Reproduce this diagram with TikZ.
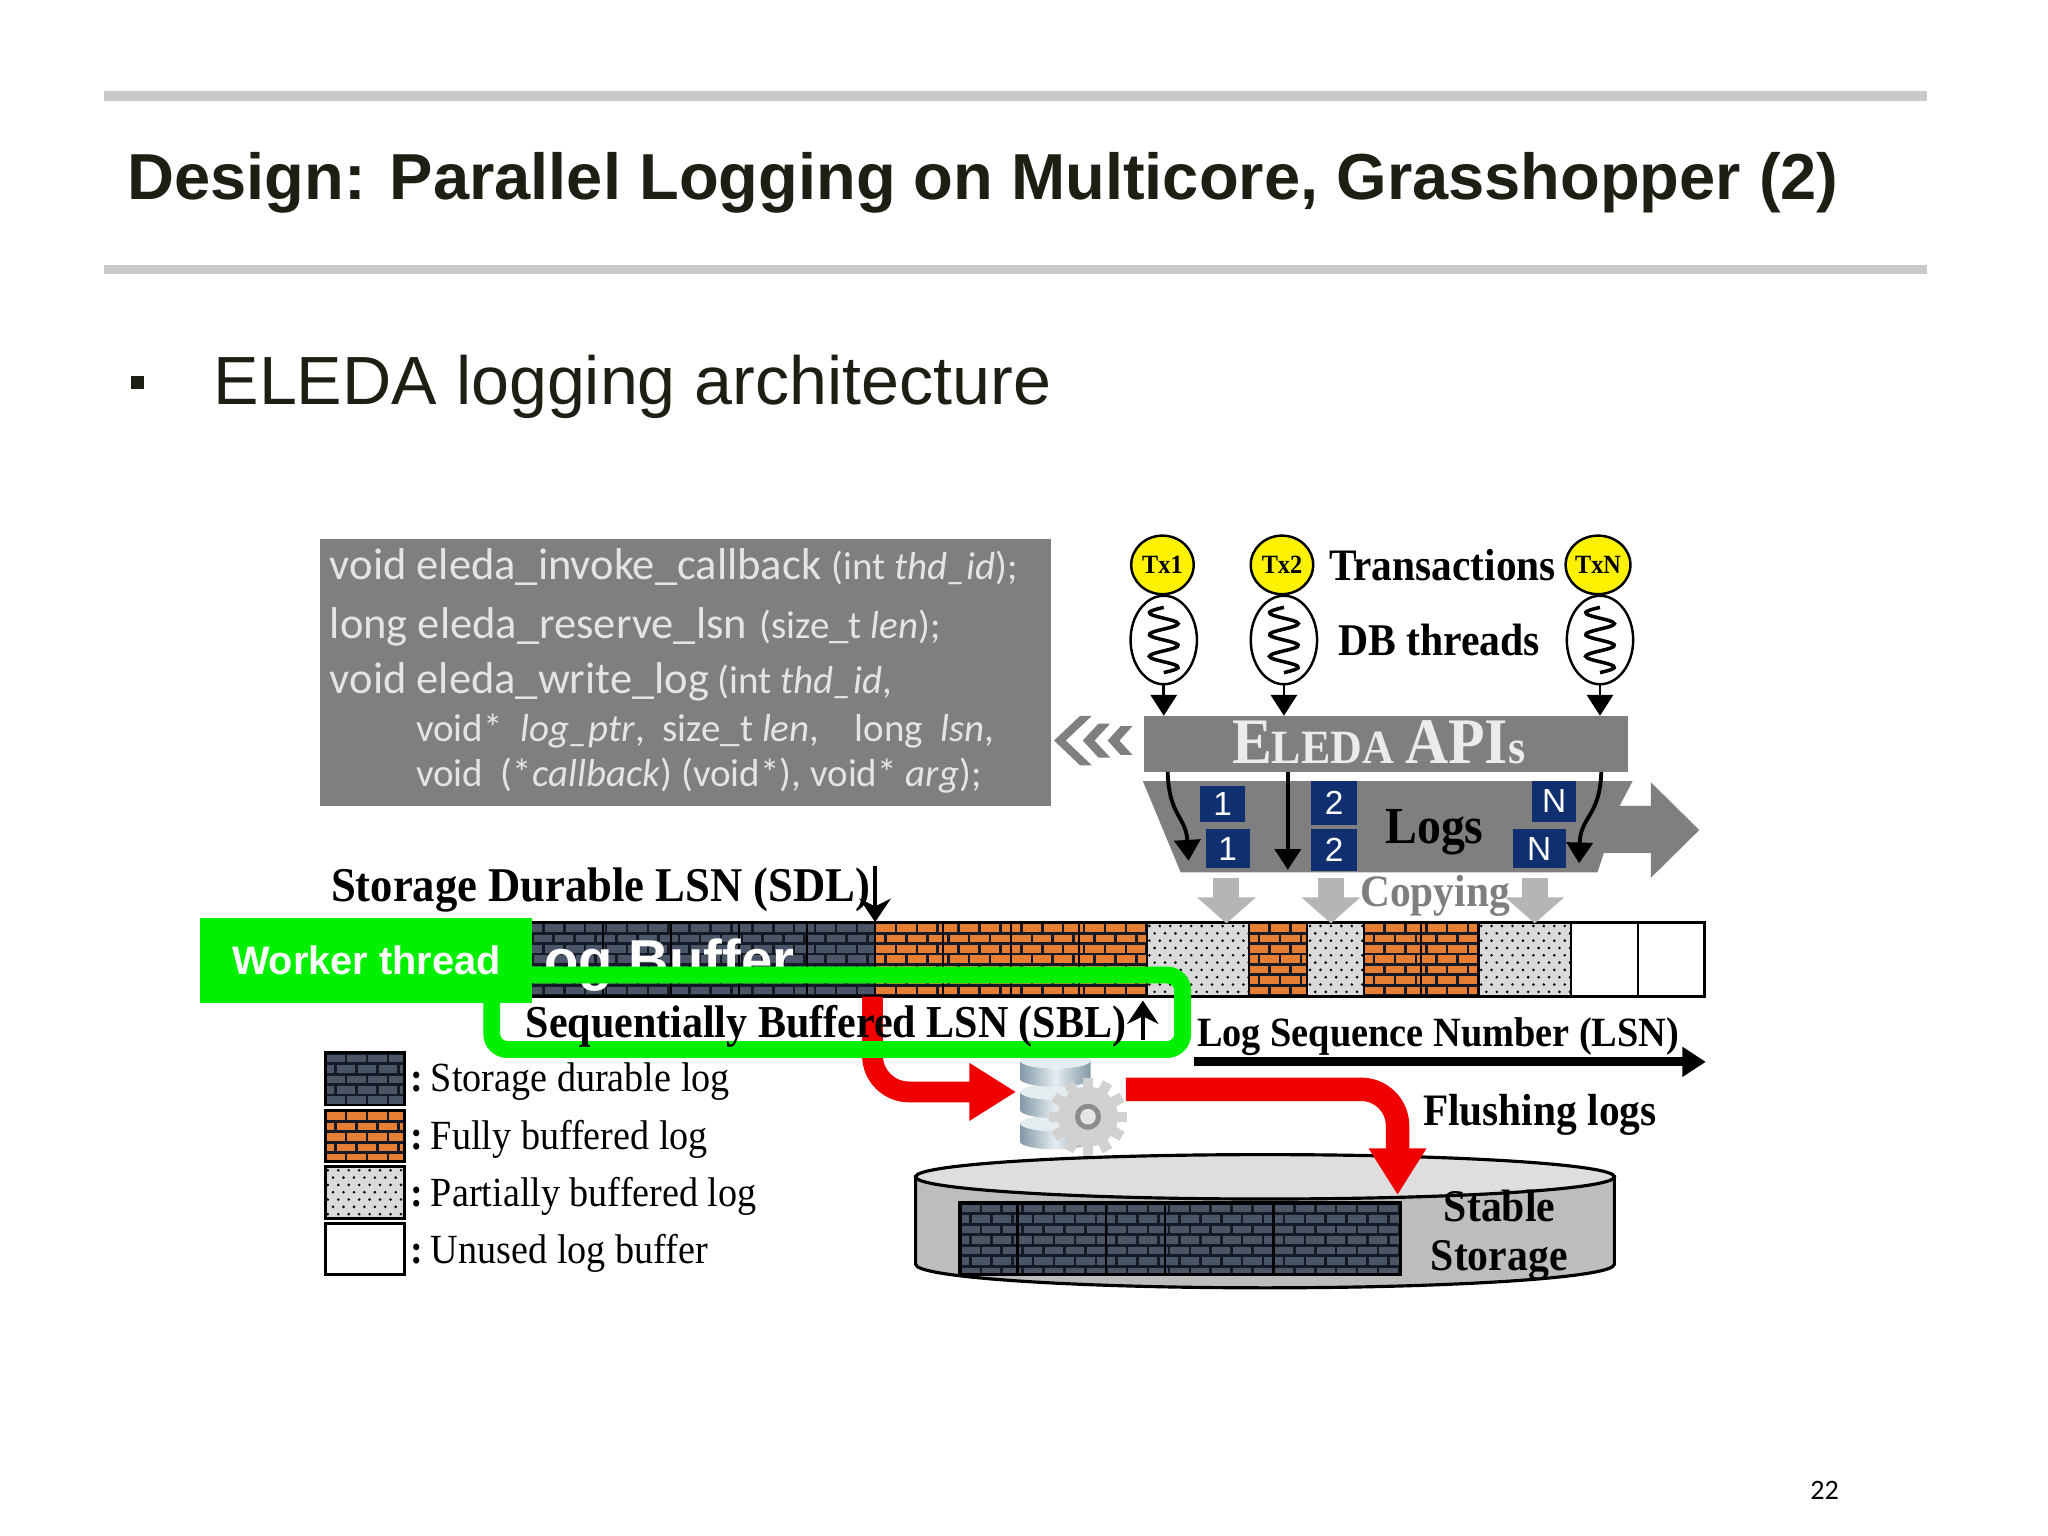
\documentclass[tikz,border=0pt]{standalone}
\usepackage{fontspec}
\setmainfont[FakeStretch=0.92]{Liberation Serif}
\newfontfamily\arialfont{Liberation Sans}
\newfontfamily\calfont{Carlito}
\usetikzlibrary{arrows.meta,shapes.geometric}
\definecolor{ruleg}{HTML}{C9C9C9}
\definecolor{titleink}{HTML}{1C2014}
\definecolor{panelg}{HTML}{7F7F7F}
\definecolor{codeink}{HTML}{E4E4E4}
\definecolor{navybox}{HTML}{0F2F70}
\definecolor{txyellow}{HTML}{FFF200}
\definecolor{copyg}{HTML}{B5B5B5}
\definecolor{brickdark}{HTML}{4A5568}
\definecolor{brickorange}{HTML}{E67F33}
\definecolor{brickline}{HTML}{141A26}
\definecolor{dotg}{HTML}{DADADA}
\definecolor{flowred}{HTML}{F00000}
\definecolor{framegreen}{HTML}{00F000}
\definecolor{stableg}{HTML}{BDBDBD}
\definecolor{discside}{HTML}{8299A8}
\definecolor{disclight}{HTML}{E6EDF1}
\newcommand{\un}{0.3702pt}
\newcommand{\brickpatch}[5]{%
	\begin{scope}
		\clip (#1,#2) rectangle (#3,#4);
		\fill[brickline] (#1,#2) rectangle (#3,#4);
		\pgfmathtruncatemacro{\ncol}{(#3-#1)/16+1}
		\pgfmathtruncatemacro{\nrow}{(#4-#2)/8}
		\foreach \rowi in {0,...,\nrow}{
			\foreach \coli in {0,...,\ncol}{
				\pgfmathsetmacro{\bx}{#1+\coli*16-mod(\rowi,2)*8+1}
				\pgfmathsetmacro{\by}{#2+1.5+\rowi*8}
				\fill[#5] (\bx,\by) rectangle (\bx+14,\by+5.8);
			}
		}
	\end{scope}}
\newcommand{\dotpatch}[4]{%
	\begin{scope}
		\clip (#1,#2) rectangle (#3,#4);
		\fill[dotg] (#1,#2) rectangle (#3,#4);
		\pgfmathtruncatemacro{\ncol}{(#3-#1)/8+1}
		\pgfmathtruncatemacro{\nrow}{(#4-#2)/5.6}
		\foreach \rowi in {0,...,\nrow}{
			\foreach \coli in {0,...,\ncol}{
				\pgfmathsetmacro{\bx}{#1+\coli*8-mod(\rowi,2)*4+2}
				\pgfmathsetmacro{\by}{#2+3+\rowi*5.6}
				\fill[black] (\bx,\by) circle (1.1);
			}
		}
	\end{scope}}
\tikzset{
	titlefont/.style={anchor=base west,inner sep=0pt,text=titleink,font=\arialfont\bfseries\fontsize{18.5}{22}\selectfont},
	codetext/.style={anchor=base west,inner sep=0pt,text=codeink,font=\calfont\fontsize{12.67}{14}\selectfont},
	codesmall/.style={codetext,font=\calfont\fontsize{11.1}{12}\selectfont},
	boldlabel/.style={anchor=base west,inner sep=0pt,font=\bfseries\fontsize{13}{15}\selectfont},
	legendtext/.style={anchor=base west,inner sep=0pt,font=\fontsize{11.8}{14}\selectfont},
	logbox/.style={fill=navybox,text=white,inner sep=0pt,font=\arialfont\fontsize{9.5}{11}\selectfont},
	txball/.style={ellipse,draw=black,line width=.7pt,fill=txyellow,inner sep=0pt,minimum width=48*\un,minimum height=45*\un,font=\bfseries\fontsize{7.5}{9}\selectfont},
	thrball/.style={ellipse,draw=black,line width=.7pt,fill=white,inner sep=0pt,minimum width=51*\un,minimum height=68*\un},
	downarrow/.style={-{Triangle[length=16*\un,width=20*\un]},line width=.8pt},
	thinarrow/.style={-{Stealth[length=18*\un,width=24*\un]},line width=1.1pt},
	copyarrow/.style={-{Triangle[length=20*\un,width=44*\un]},line width=20*\un,draw=copyg},
	redflow/.style={-{Triangle[length=36*\un,width=42*\un]},line width=16*\un,draw=flowred,rounded corners=28*\un},
	legendbox/.style={draw=black,line width=.8pt}
}
\begin{document}
\begin{tikzpicture}[x=0.013061cm,y=-0.013061cm,line join=miter]
	\useasboundingbox (0,0) rectangle (1568,1176);
	\fill[white] (0,0) rectangle (1568,1176);
	
	% Title and rules
	\fill[ruleg] (80,70) rectangle (1475,77);
	\fill[ruleg] (80,203) rectangle (1475,210);
	\node[titlefont] (title) at (97,153) {Design: Parallel Logging on Multicore, Grasshopper (2)};
	\fill[titleink] (100,288) rectangle (110,298);
	\node[titlefont,font=\arialfont\fontsize{19.4}{23}\selectfont] (subtitle) at (163,310) {ELEDA logging architecture};
	\node[anchor=base,inner sep=0pt,font=\calfont\fontsize{8}{10}\selectfont] (pagenum) at (1397,1148) {22};
	
	% Code panel
	\fill[panelg] (245,413) rectangle (805,617);
	\node[codetext] (code1) at (252,444) {void eleda\_invoke\_callback};
	\node[codesmall] (code1b) at (636,444) {(int \textit{thd\_id});};
	\node[codetext] (code2) at (252,489) {long eleda\_reserve\_lsn};
	\node[codesmall] (code2b) at (581,489) {(size\_t \textit{len});};
	\node[codetext] (code3) at (252,531) {void eleda\_write\_log};
	\node[codesmall] (code3b) at (549,531) {(int \textit{thd\_id},};
	\node[codesmall] (code4) at (318,568) {void*\ \ \textit{log\_ptr},\ \ size\_t \textit{len},\ \ \ \ long\ \ \textit{lsn},};
	\node[codesmall] (code5) at (318,602) {void\ \ (*\textit{callback}) (void*), void* \textit{arg});};
	
	% Chevrons
	\foreach \tipx/\hgt/\wid in {807/19/20,829/13/12,848/11/10}{
		\fill[panelg] (\tipx,567) -- (\tipx+\wid,567-\hgt) -- (\tipx+\wid+9,567-\hgt) -- (\tipx+9,567)
		-- (\tipx+\wid+9,567+\hgt) -- (\tipx+\wid,567+\hgt) -- cycle;
	}
	
	% API bar and log area
	\node[fill=panelg,inner sep=0pt,minimum width=372*\un,minimum height=43*\un] (apibar) at (1061,569.5) {};
	\node[inner sep=0pt,text=white!92!black,font=\bfseries\fontsize{13.6}{16}\selectfont] (apilabel) at (1055.5,568) {{\fontsize{18.5}{20}\selectfont E}LEDA {\fontsize{18.5}{20}\selectfont API}s};
	\fill[panelg] (875,598) -- (1250,598) -- (1240,617) -- (1264,617) -- (1264,599) -- (1301,635.5)
	-- (1264,672) -- (1264,653) -- (1228,653) -- (1223,668) -- (904,668) -- cycle;
	\node[boldlabel,font=\bfseries\fontsize{14.8}{16}\selectfont] (logslabel) at (1060,646) {Logs};
	\node[logbox,minimum width=34.5*\un,minimum height=27.5*\un] (log1a) at (936,615.5) {1};
	\node[logbox,minimum width=34*\un,minimum height=30*\un] (log1b) at (940,650) {1};
	\node[logbox,minimum width=35*\un,minimum height=34*\un] (log2a) at (1021.5,615) {2};
	\node[logbox,minimum width=35*\un,minimum height=32*\un] (log2b) at (1021.5,651) {2};
	\node[logbox,minimum width=34*\un,minimum height=31.5*\un] (logNa) at (1190,613.5) {N};
	\node[logbox,minimum width=41*\un,minimum height=30*\un] (logNb) at (1178.5,650) {N};
	
	% Transactions and threads
	\foreach \cname/\cx/\thrx/\lbl in {a/890/891/Tx1,b/981.5/983/Tx2,c/1223.5/1225/TxN}{
		\node[thrball] (thr\cname) at (\thrx,490) {};
		\node[txball] (tx\cname) at (\cx,432.5) {\lbl};
		\draw[line width=1pt] plot[smooth,domain=-25:25,samples=41] ({\thrx+11*sin(21.6*\x)},{490+\x});
		\coordinate (api\cname) at (\thrx,548);
		\draw[downarrow] (thr\cname.south) -- (api\cname);
	}
	\node[boldlabel,font=\bfseries\fontsize{12.8}{15}\selectfont] (txlabel) at (1017,444.5) {Transactions};
	\node[boldlabel,font=\bfseries\fontsize{12.9}{15}\selectfont] (dblabel) at (1024,502) {DB threads};
	
	% Arrows into the log area
	\coordinate (in1) at (894,591);
	\coordinate (in2) at (986,591);
	\coordinate (in3) at (1226,591);
	\coordinate (out1) at (910,659);
	\coordinate (out2) at (986,666);
	\coordinate (out3) at (1209,661);
	\draw[downarrow,line width=1.1pt] (in1) .. controls (895,625) and (908,625) .. (out1);
	\draw[downarrow,line width=1.1pt] (in2) -- (out2);
	\draw[downarrow,line width=1.1pt] (in3) .. controls (1225,625) and (1210,625) .. (out3);
	
	% Log buffer bar
	\brickpatch{400}{706}{670}{763}{brickdark}
	\brickpatch{670}{706}{878}{763}{brickorange}
	\dotpatch{878}{706}{956}{763}
	\brickpatch{956}{706}{1001}{763}{brickorange}
	\dotpatch{1001}{706}{1044}{763}
	\brickpatch{1044}{706}{1132}{763}{brickorange}
	\dotpatch{1132}{706}{1203}{763}
	\foreach \px in {462,514,566,618,670,722,774,826,878,956,1001,1044,1088,1132,1203,1254}{
		\draw[line width=.6pt,black] (\px,706) -- (\px,763);
	}
	\draw[line width=.9pt] (400,706) rectangle (1305,763);
	\node[anchor=base west,inner sep=0pt,text=white,font=\arialfont\bfseries\fontsize{16}{18}\selectfont] (bufferlabel) at (390,750) {Log Buffer};
	
	% Copying arrows
	\foreach \arrx/\arrn in {939/a,1019/b,1175/c}{
		\coordinate (copys\arrn) at (\arrx,672);
		\coordinate (copye\arrn) at (\arrx,707);
		\draw[copyarrow] (copys\arrn) -- (copye\arrn);
	}
	\node[boldlabel,text=panelg,font=\bfseries\fontsize{12.8}{15}\selectfont] (copylabel) at (1041,694) {Copying};
	
	% Legend
	\brickpatch{249}{806}{310}{846}{brickdark}
	\brickpatch{249}{850}{310}{889}{brickorange}
	\dotpatch{249}{893}{310}{933}
	\draw[legendbox] (249,806) rectangle (310,846);
	\draw[legendbox] (249,850) rectangle (310,889);
	\draw[legendbox] (249,893) rectangle (310,933);
	\draw[legendbox] (249,937) rectangle (310,976);
	\node[legendtext] (leg1) at (314,836) {\textbf{:}\hspace{.18em}Storage durable log};
	\node[legendtext] (leg2) at (314,880) {\textbf{:}\hspace{.18em}Fully buffered log};
	\node[legendtext] (leg3) at (314,924) {\textbf{:}\hspace{.18em}Partially buffered log};
	\node[legendtext] (leg4) at (314,967) {\textbf{:}\hspace{.18em}Unused log buffer};
	
	% Stable storage
	\filldraw[fill=stableg,draw=black,line width=.9pt] (701,901) -- (701,968) arc[start angle=180,end angle=0,x radius=267.5,y radius=18] -- (1236,901) -- cycle;
	\filldraw[fill=black!13,draw=black,line width=.9pt] (968.5,901) ellipse[x radius=267.5,y radius=17];
	\brickpatch{735}{921}{1072}{976}{brickdark}
	\foreach \px in {779,847,892,975}{
		\draw[line width=.6pt,black] (\px,921) -- (\px,976);
	}
	\draw[line width=.9pt] (735,921) rectangle (1072,976);
	\node[boldlabel,font=\bfseries\fontsize{12.9}{15}\selectfont] (stable1) at (1105,935) {Stable};
	\node[boldlabel,font=\bfseries\fontsize{12.9}{15}\selectfont] (stable2) at (1095,973) {Storage};
	
	% Database with gear
	\foreach \dby in {860,836,812}{
		\shade[left color=discside,right color=discside,middle color=disclight] (781,\dby) -- (781,\dby+14) arc[start angle=180,end angle=0,x radius=27,y radius=6] -- (835,\dby) arc[start angle=0,end angle=180,x radius=27,y radius=6] -- cycle;
		\fill[disclight] (808,\dby) ellipse[x radius=27,y radius=6];
	}
	\fill[black!18] (833,855) circle (23);
	\foreach \gearang in {0,30,...,330}{
		\fill[black!18,rotate around={\gearang:(833,855)}] (829,825) rectangle (837,835);
	}
	\fill[black!45] (833,855) circle (10);
	\fill[black!10] (833,855) circle (6);
	
	% Red flow arrows
	\coordinate (sbltail) at (668,763);
	\coordinate (dbin) at (778,836);
	\coordinate (dbout) at (862,834);
	\coordinate (stablein) at (1070,915);
	\draw[redflow] (sbltail) |- (dbin);
	\draw[redflow,line width=18*\un] (dbout) -| (stablein);
	
	% Worker frame and labels over it
	\draw[framegreen,line width=13*\un,rounded corners=12*\un] (376.5,746.5) rectangle (905.5,803.5);
	\node[boldlabel,font=\bfseries\fontsize{13.8}{16}\selectfont] (sdllabel) at (253,690) {Storage Durable LSN (SDL)};
	\node[boldlabel] (sbllabel) at (402,794) {Sequentially Buffered LSN (SBL)};
	\node[boldlabel,font=\bfseries\fontsize{11.85}{14}\selectfont] (lsnlabel) at (916,801) {Log Sequence Number (LSN)};
	\node[boldlabel,font=\bfseries\fontsize{12.8}{14}\selectfont] (flushlabel) at (1089,862) {Flushing logs};
	\coordinate (sdltop) at (670,663);
	\coordinate (sdlend) at (670,706);
	\coordinate (sblbot) at (875,796);
	\coordinate (sblend) at (875,766);
	\coordinate (lsntail) at (914,813);
	\coordinate (lsnhead) at (1306,813);
	\draw[thinarrow] (sdltop) -- (sdlend);
	\draw[thinarrow] (sblbot) -- (sblend);
	\draw[-{Triangle[length=18*\un,width=22*\un]},line width=7*\un] (lsntail) -- (lsnhead);
	
	% Worker tag
	\node[fill=framegreen,inner sep=0pt,minimum width=255*\un,minimum height=65*\un,text=white,font=\arialfont\bfseries\fontsize{11.3}{13}\selectfont] (workertag) at (280.5,735.5) {Worker thread};
	
\end{tikzpicture}
\end{document}
